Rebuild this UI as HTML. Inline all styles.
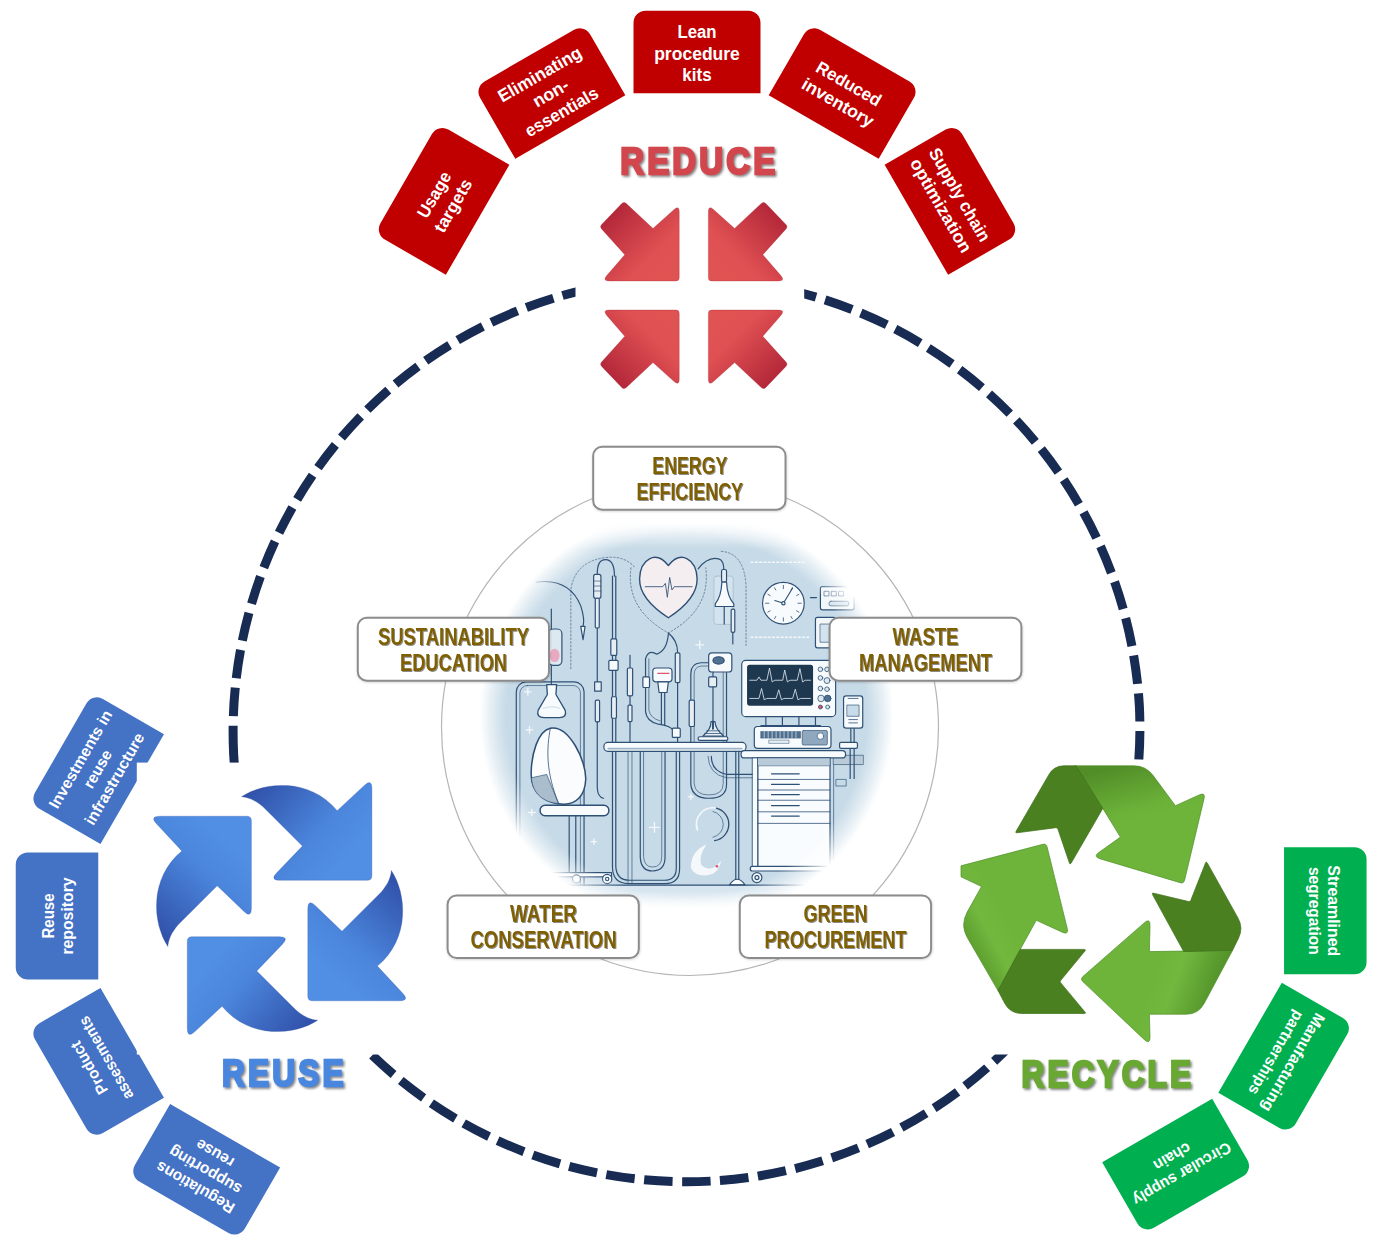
<!DOCTYPE html>
<html lang="en"><head><meta charset="utf-8"><title>Reduce Reuse Recycle</title>
<style>html,body{margin:0;padding:0;background:#fff}svg{display:block}text{font-family:"Liberation Sans",sans-serif}</style></head>
<body>
<svg width="1380" height="1240" viewBox="0 0 1380 1240">
<defs>
<linearGradient id="gr" gradientUnits="userSpaceOnUse" x1="-78" y1="-78" x2="-10" y2="-10"><stop offset="0" stop-color="#A81D33"/><stop offset="0.75" stop-color="#DF5052"/><stop offset="1" stop-color="#E05353"/></linearGradient>
<linearGradient id="gb" gradientUnits="userSpaceOnUse" x1="-30" y1="-125" x2="60" y2="-45"><stop offset="0" stop-color="#2F4DA6"/><stop offset="0.7" stop-color="#4B86DC"/><stop offset="1" stop-color="#508FE4"/></linearGradient>
<linearGradient id="gga" gradientUnits="userSpaceOnUse" x1="1120" y1="766" x2="1135" y2="822"><stop offset="0" stop-color="#528E28"/><stop offset="0.8" stop-color="#6CB239"/><stop offset="1" stop-color="#6EB43A"/></linearGradient>
<linearGradient id="ggb" gradientUnits="userSpaceOnUse" x1="966" y1="950" x2="1012" y2="925"><stop offset="0" stop-color="#579829"/><stop offset="0.55" stop-color="#72B83F"/><stop offset="1" stop-color="#6EB43A"/></linearGradient>
<linearGradient id="ggc" gradientUnits="userSpaceOnUse" x1="1160" y1="960" x2="1228" y2="985"><stop offset="0" stop-color="#6EB43A"/><stop offset="0.3" stop-color="#72B83F"/><stop offset="1" stop-color="#4C8A24"/></linearGradient>
<radialGradient id="disc" gradientUnits="userSpaceOnUse" cx="690" cy="716" r="212"><stop offset="0" stop-color="#C8DBE8"/><stop offset="0.78" stop-color="#C8DBE8"/><stop offset="0.9" stop-color="#DCE8F0"/><stop offset="1" stop-color="#FFFFFF"/></radialGradient>
<filter id="sh" x="-10%" y="-20%" width="120%" height="150%"><feDropShadow dx="1.6" dy="1.6" stdDeviation="0.9" flood-color="#555" flood-opacity="0.75"/></filter>
<filter id="sh2" x="-10%" y="-20%" width="120%" height="150%"><feDropShadow dx="1" dy="1" stdDeviation="0.7" flood-color="#333" flood-opacity="0.55"/></filter>
<filter id="bsh" x="-5%" y="-10%" width="110%" height="125%"><feDropShadow dx="0.4" dy="0.8" stdDeviation="0.8" flood-color="#000" flood-opacity="0.18"/></filter>
<clipPath id="cdisc"><circle cx="690" cy="716" r="212"/></clipPath>
</defs>

<rect width="1380" height="1240" fill="#fff"/>
<path d="M233.65,754.21 A453.5,453.5 0 0 1 1139.35,705.79 A453.5,453.5 0 0 1 233.65,754.21" fill="none" stroke="#172B53" stroke-width="9" stroke-dasharray="28.6 9.462"/>
<g transform="translate(441.9,199.2) rotate(-60)"><path d="M-63.5,-29.25 A12,12 0 0 1 -51.5,-41.25 L51.5,-41.25 A12,12 0 0 1 63.5,-29.25 L63.5,41.25 L-63.5,41.25 Z" fill="#C00000"/><text x="0" y="-2.9" font-size="17.5" font-weight="700" fill="#fff" text-anchor="middle" textLength="50.4" lengthAdjust="spacingAndGlyphs">Usage</text><text x="0" y="18.8" font-size="17.5" font-weight="700" fill="#fff" text-anchor="middle" textLength="58.4" lengthAdjust="spacingAndGlyphs">targets</text></g>
<g transform="translate(549.7,91.4) rotate(-30)"><path d="M-63.5,-29.25 A12,12 0 0 1 -51.5,-41.25 L51.5,-41.25 A12,12 0 0 1 63.5,-29.25 L63.5,41.25 L-63.5,41.25 Z" fill="#C00000"/><text x="0" y="-13.8" font-size="17.5" font-weight="700" fill="#fff" text-anchor="middle" textLength="93.5" lengthAdjust="spacingAndGlyphs">Eliminating</text><text x="0" y="7.9" font-size="17.5" font-weight="700" fill="#fff" text-anchor="middle" textLength="38.4" lengthAdjust="spacingAndGlyphs">non-</text><text x="0" y="29.6" font-size="17.5" font-weight="700" fill="#fff" text-anchor="middle" textLength="81.5" lengthAdjust="spacingAndGlyphs">essentials</text></g>
<g transform="translate(697.0,51.9) rotate(0)"><path d="M-63.5,-29.25 A12,12 0 0 1 -51.5,-41.25 L51.5,-41.25 A12,12 0 0 1 63.5,-29.25 L63.5,41.25 L-63.5,41.25 Z" fill="#C00000"/><text x="0" y="-13.8" font-size="17.5" font-weight="700" fill="#fff" text-anchor="middle" textLength="39.1" lengthAdjust="spacingAndGlyphs">Lean</text><text x="0" y="7.9" font-size="17.5" font-weight="700" fill="#fff" text-anchor="middle" textLength="85.7" lengthAdjust="spacingAndGlyphs">procedure</text><text x="0" y="29.6" font-size="17.5" font-weight="700" fill="#fff" text-anchor="middle" textLength="29.4" lengthAdjust="spacingAndGlyphs">kits</text></g>
<g transform="translate(844.3,91.4) rotate(30)"><path d="M-63.5,-29.25 A12,12 0 0 1 -51.5,-41.25 L51.5,-41.25 A12,12 0 0 1 63.5,-29.25 L63.5,41.25 L-63.5,41.25 Z" fill="#C00000"/><text x="0" y="-2.9" font-size="17.5" font-weight="700" fill="#fff" text-anchor="middle" textLength="72.0" lengthAdjust="spacingAndGlyphs">Reduced</text><text x="0" y="18.8" font-size="17.5" font-weight="700" fill="#fff" text-anchor="middle" textLength="80.2" lengthAdjust="spacingAndGlyphs">inventory</text></g>
<g transform="translate(952.1,199.2) rotate(60)"><path d="M-63.5,-29.25 A12,12 0 0 1 -51.5,-41.25 L51.5,-41.25 A12,12 0 0 1 63.5,-29.25 L63.5,41.25 L-63.5,41.25 Z" fill="#C00000"/><text x="0" y="-2.9" font-size="17.5" font-weight="700" fill="#fff" text-anchor="middle" textLength="105.2" lengthAdjust="spacingAndGlyphs">Supply chain</text><text x="0" y="18.8" font-size="17.5" font-weight="700" fill="#fff" text-anchor="middle" textLength="105.7" lengthAdjust="spacingAndGlyphs">optimization</text></g>
<g transform="translate(96.5,768.5) rotate(-60)"><path d="M-63.5,-29.25 A12,12 0 0 1 -51.5,-41.25 L51.5,-41.25 A12,12 0 0 1 63.5,-29.25 L63.5,41.25 L-63.5,41.25 Z" fill="#4472C4"/><text x="0" y="-13.0" font-size="15.8" font-weight="700" fill="#fff" text-anchor="middle" textLength="110.5" lengthAdjust="spacingAndGlyphs">Investments in</text><text x="0" y="6.6" font-size="15.8" font-weight="700" fill="#fff" text-anchor="middle" textLength="41.4" lengthAdjust="spacingAndGlyphs">reuse</text><text x="0" y="26.2" font-size="15.8" font-weight="700" fill="#fff" text-anchor="middle" textLength="103.4" lengthAdjust="spacingAndGlyphs">infrastructure</text></g>
<g transform="translate(57.0,916.0) rotate(-90)"><path d="M-63.5,-29.25 A12,12 0 0 1 -51.5,-41.25 L51.5,-41.25 A12,12 0 0 1 63.5,-29.25 L63.5,41.25 L-63.5,41.25 Z" fill="#4472C4"/><text x="0" y="-3.2" font-size="15.8" font-weight="700" fill="#fff" text-anchor="middle" textLength="45.1" lengthAdjust="spacingAndGlyphs">Reuse</text><text x="0" y="16.4" font-size="15.8" font-weight="700" fill="#fff" text-anchor="middle" textLength="77.2" lengthAdjust="spacingAndGlyphs">repository</text></g>
<g transform="translate(96.5,1063.5) rotate(-120)"><path d="M-63.5,-29.25 A12,12 0 0 1 -51.5,-41.25 L51.5,-41.25 A12,12 0 0 1 63.5,-29.25 L63.5,41.25 L-63.5,41.25 Z" fill="#4472C4"/><text x="0" y="-3.2" font-size="15.8" font-weight="700" fill="#fff" text-anchor="middle" textLength="58.7" lengthAdjust="spacingAndGlyphs">Product</text><text x="0" y="16.4" font-size="15.8" font-weight="700" fill="#fff" text-anchor="middle" textLength="93.6" lengthAdjust="spacingAndGlyphs">assessments</text></g>
<g transform="translate(204.5,1171.5) rotate(-150)"><path d="M-63.5,-29.25 A12,12 0 0 1 -51.5,-41.25 L51.5,-41.25 A12,12 0 0 1 63.5,-29.25 L63.5,41.25 L-63.5,41.25 Z" fill="#4472C4"/><text x="0" y="-13.0" font-size="15.8" font-weight="700" fill="#fff" text-anchor="middle" textLength="87.9" lengthAdjust="spacingAndGlyphs">Regulations</text><text x="0" y="6.6" font-size="15.8" font-weight="700" fill="#fff" text-anchor="middle" textLength="81.1" lengthAdjust="spacingAndGlyphs">supporting</text><text x="0" y="26.2" font-size="15.8" font-weight="700" fill="#fff" text-anchor="middle" textLength="41.4" lengthAdjust="spacingAndGlyphs">reuse</text></g>
<rect x="575.5" y="186" width="228.7" height="226" fill="#fff"/>
<rect x="136.8" y="762.6" width="284.6" height="291.9" fill="#fff"/>
<rect x="961" y="759.6" width="281" height="294.9" fill="#fff"/>
<g transform="translate(1325.3,910.8) rotate(90)"><path d="M-63.5,-29.25 A12,12 0 0 1 -51.5,-41.25 L51.5,-41.25 A12,12 0 0 1 63.5,-29.25 L63.5,41.25 L-63.5,41.25 Z" fill="#00B050"/><text x="0" y="-3.2" font-size="15.8" font-weight="700" fill="#fff" text-anchor="middle" textLength="91.0" lengthAdjust="spacingAndGlyphs">Streamlined</text><text x="0" y="16.4" font-size="15.8" font-weight="700" fill="#fff" text-anchor="middle" textLength="87.7" lengthAdjust="spacingAndGlyphs">segregation</text></g>
<g transform="translate(1285.8,1058.3) rotate(120)"><path d="M-63.5,-29.25 A12,12 0 0 1 -51.5,-41.25 L51.5,-41.25 A12,12 0 0 1 63.5,-29.25 L63.5,41.25 L-63.5,41.25 Z" fill="#00B050"/><text x="0" y="-3.2" font-size="15.8" font-weight="700" fill="#fff" text-anchor="middle" textLength="111.0" lengthAdjust="spacingAndGlyphs">Manufacturing</text><text x="0" y="16.4" font-size="15.8" font-weight="700" fill="#fff" text-anchor="middle" textLength="94.5" lengthAdjust="spacingAndGlyphs">partnerships</text></g>
<g transform="translate(1177.8,1166.3) rotate(150)"><path d="M-63.5,-29.25 A12,12 0 0 1 -51.5,-41.25 L51.5,-41.25 A12,12 0 0 1 63.5,-29.25 L63.5,41.25 L-63.5,41.25 Z" fill="#00B050"/><text x="0" y="-3.2" font-size="15.8" font-weight="700" fill="#fff" text-anchor="middle" textLength="110.5" lengthAdjust="spacingAndGlyphs">Circular supply</text><text x="0" y="16.4" font-size="15.8" font-weight="700" fill="#fff" text-anchor="middle" textLength="40.2" lengthAdjust="spacingAndGlyphs">chain</text></g>
<g id="reduce">
<g transform="translate(693.8,295.5) scale(1,1) translate(-14.6,-14.6)"><path d="M-3.2,0.0 Q0.0,0.0 0.0,-3.2 L0.0,-68.8 Q0.0,-76.0 -5.3,-71.2 L-26.2,-52.4 L-52.9,-77.4 Q-55.2,-79.6 -57.4,-77.3 L-77.5,-56.3 Q-79.6,-54.2 -77.6,-52.0 L-54.4,-26.2 L-72.4,-5.3 Q-77.0,0.0 -70.0,0.0 Z" fill="url(#gr)" stroke="#B02A3C" stroke-opacity="0.45" stroke-width="0.8"/></g>
<g transform="translate(693.8,295.5) scale(-1,1) translate(-14.6,-14.6)"><path d="M-3.2,0.0 Q0.0,0.0 0.0,-3.2 L0.0,-68.8 Q0.0,-76.0 -5.3,-71.2 L-26.2,-52.4 L-52.9,-77.4 Q-55.2,-79.6 -57.4,-77.3 L-77.5,-56.3 Q-79.6,-54.2 -77.6,-52.0 L-54.4,-26.2 L-72.4,-5.3 Q-77.0,0.0 -70.0,0.0 Z" fill="url(#gr)" stroke="#B02A3C" stroke-opacity="0.45" stroke-width="0.8"/></g>
<g transform="translate(693.8,295.5) scale(1,-1) translate(-14.6,-14.6)"><path d="M-3.2,0.0 Q0.0,0.0 0.0,-3.2 L0.0,-68.8 Q0.0,-76.0 -5.3,-71.2 L-26.2,-52.4 L-52.9,-77.4 Q-55.2,-79.6 -57.4,-77.3 L-77.5,-56.3 Q-79.6,-54.2 -77.6,-52.0 L-54.4,-26.2 L-72.4,-5.3 Q-77.0,0.0 -70.0,0.0 Z" fill="url(#gr)" stroke="#B02A3C" stroke-opacity="0.45" stroke-width="0.8"/></g>
<g transform="translate(693.8,295.5) scale(-1,-1) translate(-14.6,-14.6)"><path d="M-3.2,0.0 Q0.0,0.0 0.0,-3.2 L0.0,-68.8 Q0.0,-76.0 -5.3,-71.2 L-26.2,-52.4 L-52.9,-77.4 Q-55.2,-79.6 -57.4,-77.3 L-77.5,-56.3 Q-79.6,-54.2 -77.6,-52.0 L-54.4,-26.2 L-72.4,-5.3 Q-77.0,0.0 -70.0,0.0 Z" fill="url(#gr)" stroke="#B02A3C" stroke-opacity="0.45" stroke-width="0.8"/></g>
</g>
<g id="reuse">
<g transform="translate(279.6,908.5) rotate(0)"><path d="M84.7,-123.1 Q92.3,-130.2 92.3,-119.8 L92.3,-32.7 Q92.3,-28.2 87.8,-28.2 L0.4,-28.2 Q-10.2,-28.2 -2.8,-35.8 L22.8,-62.4 L-14.3,-99.5 L-16.6,-101.7 L-19.0,-103.7 L-21.4,-105.4 L-23.7,-107.0 L-26.1,-108.3 L-28.5,-109.4 L-30.9,-110.3 L-33.3,-111.0 L-35.7,-111.5 L-38.1,-111.7 L-33.5,-114.4 L-28.5,-116.9 L-23.1,-118.9 L-17.3,-120.7 L-11.2,-121.9 L-4.9,-122.8 L1.5,-123.1 L8.1,-122.9 L14.7,-122.2 L21.3,-120.8 L27.8,-118.8 L34.3,-116.1 L40.5,-112.7 L46.5,-108.6 L52.2,-103.6 L57.6,-97.8 Z" fill="url(#gb)" stroke="#2F4DA6" stroke-opacity="0.35" stroke-width="0.8"/></g>
<g transform="translate(279.6,908.5) rotate(90)"><path d="M84.7,-123.1 Q92.3,-130.2 92.3,-119.8 L92.3,-32.7 Q92.3,-28.2 87.8,-28.2 L0.4,-28.2 Q-10.2,-28.2 -2.8,-35.8 L22.8,-62.4 L-14.3,-99.5 L-16.6,-101.7 L-19.0,-103.7 L-21.4,-105.4 L-23.7,-107.0 L-26.1,-108.3 L-28.5,-109.4 L-30.9,-110.3 L-33.3,-111.0 L-35.7,-111.5 L-38.1,-111.7 L-33.5,-114.4 L-28.5,-116.9 L-23.1,-118.9 L-17.3,-120.7 L-11.2,-121.9 L-4.9,-122.8 L1.5,-123.1 L8.1,-122.9 L14.7,-122.2 L21.3,-120.8 L27.8,-118.8 L34.3,-116.1 L40.5,-112.7 L46.5,-108.6 L52.2,-103.6 L57.6,-97.8 Z" fill="url(#gb)" stroke="#2F4DA6" stroke-opacity="0.35" stroke-width="0.8"/></g>
<g transform="translate(279.6,908.5) rotate(180)"><path d="M84.7,-123.1 Q92.3,-130.2 92.3,-119.8 L92.3,-32.7 Q92.3,-28.2 87.8,-28.2 L0.4,-28.2 Q-10.2,-28.2 -2.8,-35.8 L22.8,-62.4 L-14.3,-99.5 L-16.6,-101.7 L-19.0,-103.7 L-21.4,-105.4 L-23.7,-107.0 L-26.1,-108.3 L-28.5,-109.4 L-30.9,-110.3 L-33.3,-111.0 L-35.7,-111.5 L-38.1,-111.7 L-33.5,-114.4 L-28.5,-116.9 L-23.1,-118.9 L-17.3,-120.7 L-11.2,-121.9 L-4.9,-122.8 L1.5,-123.1 L8.1,-122.9 L14.7,-122.2 L21.3,-120.8 L27.8,-118.8 L34.3,-116.1 L40.5,-112.7 L46.5,-108.6 L52.2,-103.6 L57.6,-97.8 Z" fill="url(#gb)" stroke="#2F4DA6" stroke-opacity="0.35" stroke-width="0.8"/></g>
<g transform="translate(279.6,908.5) rotate(270)"><path d="M84.7,-123.1 Q92.3,-130.2 92.3,-119.8 L92.3,-32.7 Q92.3,-28.2 87.8,-28.2 L0.4,-28.2 Q-10.2,-28.2 -2.8,-35.8 L22.8,-62.4 L-14.3,-99.5 L-16.6,-101.7 L-19.0,-103.7 L-21.4,-105.4 L-23.7,-107.0 L-26.1,-108.3 L-28.5,-109.4 L-30.9,-110.3 L-33.3,-111.0 L-35.7,-111.5 L-38.1,-111.7 L-33.5,-114.4 L-28.5,-116.9 L-23.1,-118.9 L-17.3,-120.7 L-11.2,-121.9 L-4.9,-122.8 L1.5,-123.1 L8.1,-122.9 L14.7,-122.2 L21.3,-120.8 L27.8,-118.8 L34.3,-116.1 L40.5,-112.7 L46.5,-108.6 L52.2,-103.6 L57.6,-97.8 Z" fill="url(#gb)" stroke="#2F4DA6" stroke-opacity="0.35" stroke-width="0.8"/></g>
</g>
<g id="recycle">
<path d="M1074.9,765.8 L1133.9,765.8 Q1146.0,765.8 1153.2,775.6 L1175.4,805.7 L1199.2,794.9 Q1205.7,792.0 1204.0,798.9 L1184.6,880.2 Q1183.7,883.8 1180.2,882.7 L1099.8,858.7 Q1092.9,856.6 1098.8,852.5 L1120.4,837.1 L1102.8,808.4 Z" fill="url(#gga)" stroke="#4E8F27" stroke-width="0.7"/><path d="M1076.0,765.8 L1102.8,808.4 L1071.2,863.1 Q1070.1,865.0 1069.4,862.9 L1057.9,829.1 Q1057.4,827.5 1055.8,827.7 L1017.1,832.8 Q1015.1,833.1 1016.1,831.3 L1049.0,774.4 Q1054.0,765.8 1063.9,765.8 Z" fill="#4A8020" stroke="#3E7019" stroke-width="0.7"/>
<path d="M1047.1,846.9 Q1046.3,843.4 1042.9,844.3 L961.0,865.8 L961.0,876.8 L981.5,886.5 L967.2,912.1 Q960.0,925.0 967.4,937.8 L998.4,991.3 L1020.2,949.4 L1036.3,920.3 L1062.3,932.2 Q1068.9,935.2 1067.2,928.2 Z" fill="url(#ggb)" stroke="#4E8F27" stroke-width="0.7"/><path d="M1020.2,949.4 L1084.2,949.4 Q1086.3,949.4 1084.9,951.0 L1060.8,980.3 Q1059.7,981.6 1060.8,982.9 L1084.9,1011.9 Q1086.3,1013.5 1084.2,1013.5 L1021.7,1013.5 Q1010.0,1013.5 1004.6,1003.1 L998.0,990.5 Z" fill="#4A8020" stroke="#3E7019" stroke-width="0.7"/>
<path d="M1082.8,981.6 Q1080.0,979.0 1082.9,976.5 L1144.2,922.9 Q1150.2,917.7 1150.0,925.6 L1149.4,951.6 L1232.6,950.3 L1204.1,1003.6 Q1198.5,1014.2 1186.5,1014.2 L1149.4,1014.2 L1150.0,1036.8 Q1150.2,1045.2 1144.1,1039.4 Z" fill="url(#ggc)" stroke="#4E8F27" stroke-width="0.7"/><path d="M1205.5,863.0 Q1206.3,861.0 1207.3,862.9 L1238.1,918.2 Q1243.5,928.0 1238.6,938.0 L1232.6,950.3 L1183.7,951.6 L1152.6,894.7 Q1151.5,892.7 1153.7,893.2 L1188.5,901.5 Q1190.2,901.9 1190.8,900.3 Z" fill="#4A8020" stroke="#3E7019" stroke-width="0.7"/>
</g>
<!-- centre -->
<circle cx="690" cy="727" r="248.5" fill="none" stroke="#B5B5B5" stroke-width="1.2"/>
<mask id="fade" maskUnits="userSpaceOnUse" x="470" y="500" width="440" height="430">
<radialGradient id="fg" gradientUnits="userSpaceOnUse" cx="686.5" cy="716" r="207"><stop offset="0" stop-color="#fff"/><stop offset="0.87" stop-color="#fff"/><stop offset="0.935" stop-color="#8a8a8a"/><stop offset="1" stop-color="#000"/></radialGradient>
<rect x="470" y="500" width="440" height="430" fill="url(#fg)"/>
</mask>
<mask id="fadev" maskUnits="userSpaceOnUse" x="470" y="500" width="440" height="430">
<linearGradient id="fv" gradientUnits="userSpaceOnUse" x1="0" y1="522" x2="0" y2="908"><stop offset="0" stop-color="#000"/><stop offset="0.07" stop-color="#fff"/><stop offset="0.955" stop-color="#fff"/><stop offset="1" stop-color="#000"/></linearGradient>
<rect x="470" y="500" width="440" height="430" fill="url(#fv)"/>
</mask>
<g mask="url(#fadev)"><g mask="url(#fade)">
<rect x="470" y="500" width="440" height="430" fill="#C6DAE7"/>
<rect x="470" y="886" width="440" height="50" fill="#D6E5EF"/>
<g transform="translate(470,510) scale(0.33058)" fill="none" stroke="#2F5075" stroke-width="3.6" stroke-linecap="round" stroke-linejoin="round">
<!-- dotted guides -->
<g stroke-dasharray="5 6" stroke-width="2.4" stroke="#55728F">
<path d="M305,480 L305,240 Q320,150 420,143 Q470,140 500,175"/>
<path d="M487,175 Q470,300 600,372 Q730,300 713,175"/>
<path d="M760,125 Q830,130 835,230 L835,410"/>
</g>
<g stroke="#F4F8FB" stroke-dasharray="6 7" stroke-width="4"><path d="M850,158 L1010,158"/><path d="M850,385 L1025,385"/></g>
<!-- IV frame -->
<rect x="140" y="520" width="205" height="700" rx="30"/><rect x="151" y="531" width="183" height="700" rx="22" stroke-width="2"/>
<!-- drip chamber -->
<path d="M246,300 L246,528"/><rect x="238" y="360" width="40" height="110" rx="14" fill="#DCE9F1"/><ellipse cx="256" cy="440" rx="15" ry="20" fill="#E9A9C0" stroke="none"/>
<!-- flask -->
<path d="M232,528 L262,528 L260,558 L288,606 Q294,628 270,628 L224,628 Q200,628 206,606 L234,558 Z" fill="#F7FBFD" stroke-width="4"/><path d="M222,600 Q247,590 272,600" stroke="#B9CBD8" stroke-width="2"/>
<!-- hose top-left -->
<path d="M200,218 Q300,205 335,290 Q348,330 342,352" /><path d="M335,352 L348,352 L342,392 Z" fill="#F4F8FB"/>
<!-- instrument 1 -->
<path d="M385,192 Q385,150 410,150 Q437,150 437,200"/>
<rect x="374" y="195" width="22" height="72" rx="6" fill="#E6EEF4"/><path d="M374,215 h22 M374,230 h22 M374,245 h22" stroke-width="2"/>
<rect x="379" y="267" width="12" height="90" rx="4" fill="#E6EEF4"/><path d="M385,357 L385,520"/>
<rect x="377" y="520" width="20" height="28" fill="#E6EEF4"/><rect x="379" y="575" width="13" height="66" rx="4" fill="#E6EEF4"/><path d="M385,641 L385,840 Q386,868 404,872"/>
<!-- pole -->
<path d="M431,200 L431,1080 Q431,1130 480,1130 L590,1130 Q634,1130 634,1085 L634,730"/><path d="M441,200 L441,1078 Q443,1120 482,1120 L588,1120 Q624,1120 624,1083 L624,730"/>
<rect x="426" y="390" width="18" height="50" rx="4" fill="#E6EEF4"/><rect x="420" y="455" width="28" height="30" rx="3" fill="#F7FBFD"/><rect x="428" y="565" width="15" height="65" rx="4" fill="#E6EEF4"/>
<!-- instrument 3 -->
<path d="M484,440 L484,700"/><rect x="476" y="478" width="16" height="84" rx="4" fill="#E6EEF4"/><rect x="478" y="590" width="12" height="50" rx="3" fill="#E6EEF4"/><path d="M478,730 L478,1130 M490,730 L490,1130" stroke-width="2"/>
<!-- heart tubes -->
<path d="M600,372 Q628,395 628,430 L628,700"/><rect x="621" y="432" width="14" height="90" rx="4" fill="#E6EEF4"/>
<path d="M600,375 Q596,425 565,436 Q540,420 531,450 L531,610 Q534,640 570,648 Q606,652 616,668"/><path d="M541,450 L541,606 Q546,630 575,638" stroke-width="2"/>
<rect x="523" y="505" width="20" height="32" rx="3" fill="#F7FBFD"/>
<!-- handpiece -->
<rect x="553" y="478" width="58" height="42" rx="10" fill="#F7FBFD"/><path d="M568,494 h34" stroke="#E0566F" stroke-width="4"/>
<path d="M568,520 L600,520 L596,552 L572,552 Z" fill="#F7FBFD"/><path d="M579,552 L579,648 M589,552 L589,650"/>
<rect x="612" y="660" width="24" height="28" rx="3" fill="#F7FBFD"/>
<!-- inner U -->
<path d="M515,730 L515,1050 Q517,1092 552,1092 Q590,1092 590,1050 L590,730"/><path d="M525,730 L525,1048 Q527,1080 552,1080 Q580,1080 580,1048 L580,730" stroke-width="2"/>
<!-- right instrument -->
<path d="M722,462 L698,462 Q668,464 668,495 L668,830 Q672,872 722,872 Q776,872 776,830 L776,492"/><path d="M722,472 L700,472 Q678,474 678,498 L678,828 Q682,862 722,862 Q766,862 766,828 L766,492" stroke-width="2"/>
<rect x="722" y="432" width="70" height="58" rx="10" fill="#F7FBFD"/><ellipse cx="752" cy="455" rx="17" ry="11" fill="#50708F"/>
<rect x="663" y="575" width="16" height="80" rx="4" fill="#E6EEF4"/>
<path d="M735,490 L735,640"/><rect x="722" y="505" width="24" height="30" rx="3" fill="#E6EEF4"/>
<path d="M729,640 Q730,664 704,684 L768,684 Q742,664 741,640 Z" fill="#E9F0F5"/><path d="M716,668 h40 M710,676 h52" stroke-width="2.4"/><path d="M735,640 L735,662" stroke-width="6"/><rect x="690" y="686" width="90" height="11" rx="5" fill="#F7FBFD"/>
<path d="M730,745 Q730,790 776,800 L860,800" /><path d="M720,745 Q722,800 776,810 L860,810" stroke-width="2"/>
<!-- table -->
<rect x="405" y="703" width="430" height="27" rx="12" fill="#F7FBFD"/><path d="M418,722 L822,722" stroke="#9FB6C9" stroke-width="5"/>
<path d="M804,730 L804,1118 M813,730 L813,1118"/><path d="M785,1134 Q808,1100 832,1134 Z" fill="#F7FBFD"/>
<!-- heart -->
<path d="M600,326 C560,300 512,262 513,208 C515,148 562,120 600,168 C638,120 685,148 687,208 C688,262 640,300 600,326 Z" fill="#F5EEF1" stroke-width="4.2"/>
<path d="M530,232 L583,232 L591,222 L597,264 L604,204 L611,242 L618,232 L672,232" stroke-width="2.6"/>
<!-- top right instrument -->
<path d="M690,178 Q720,140 752,148 Q768,152 768,182"/>
<rect x="738" y="200" width="58" height="146" rx="8" fill="#D4E4EE" stroke="#9DB5C8" stroke-width="2"/>
<rect x="761" y="180" width="15" height="38" rx="5" fill="#E6EEF4"/>
<path d="M762,218 L776,218 Q778,262 798,284 L798,292 L742,292 L742,284 Q760,262 762,218 Z" fill="#F7FBFD"/>
<path d="M769,292 L769,345"/><rect x="790" y="300" width="11" height="70" rx="4" fill="#E6EEF4"/><path d="M795,370 L795,405"/>
<!-- clock -->
<circle cx="948" cy="282" r="63" fill="#F7FBFD" stroke-width="3.5"/>
<path d="M948,228 v10 M948,326 v10 M894,282 h10 M992,282 h10 M921,235 l4,7 M975,329 l-4,-7 M975,235 l-4,7 M921,329 l4,-7 M901,255 l7,4 M995,255 l-7,4 M901,309 l7,-4 M995,309 l-7,-4" stroke-width="2.4"/>
<path d="M948,282 L976,236 M948,282 L922,274" stroke-width="3.4"/><circle cx="948" cy="282" r="5" fill="#F7FBFD"/>
<path d="M1030,265 h18" stroke-width="4"/>
<!-- wall panels -->
<rect x="1060" y="232" width="102" height="70" rx="6" fill="#F2F7FA"/><path d="M1072,246 h14 v14 h-14 Z M1094,246 h14 v14 h-14 Z M1116,246 h14 v14 h-14 Z" stroke-width="2"/><rect x="1086" y="276" width="60" height="14" rx="6" fill="#D4E4EE" stroke-width="2"/>
<rect x="1045" y="325" width="60" height="92" rx="6" fill="#F2F7FA"/><rect x="1060" y="345" width="40" height="55" fill="#D4E4EE" stroke-width="2"/>
<!-- monitor -->
<rect x="822" y="455" width="284" height="170" rx="12" fill="#F7FBFD" stroke-width="3.5"/>
<rect x="840" y="470" width="196" height="120" rx="6" fill="#1E3850" stroke="#1E3850"/>
<path d="M846,515 L868,515 L874,505 L880,515 L898,515 L906,478 L914,520 L922,515 L946,515 L952,484 L960,520 L968,515 L990,515 L998,480 L1006,520 L1014,515 L1030,515" stroke="#E6F0F6" stroke-width="2.4"/>
<path d="M846,570 L874,570 L882,540 L890,574 L898,570 L926,570 L934,544 L942,574 L950,570 L976,570 L984,542 L992,574 L1000,570 L1030,570" stroke="#E6F0F6" stroke-width="2.4"/>
<g stroke-width="2.4" fill="#DCE8F0"><circle cx="1060" cy="482" r="7"/><circle cx="1080" cy="482" r="7"/><circle cx="1060" cy="508" r="7"/><circle cx="1080" cy="516" r="9"/><circle cx="1060" cy="540" r="7"/><circle cx="1080" cy="542" r="7"/><circle cx="1062" cy="570" r="10"/><circle cx="1082" cy="570" r="10" fill="#50708F"/><circle cx="1060" cy="596" r="6" fill="#E0566F"/><circle cx="1082" cy="596" r="6"/></g>
<path d="M895,625 L895,652 M945,625 L945,652 M995,625 L995,652 M1045,625 L1045,652 M880,652 L1060,652"/>
<!-- keyboard unit -->
<rect x="860" y="655" width="232" height="66" rx="10" fill="#F7FBFD"/><rect x="880" y="670" width="120" height="20" fill="#50708F" stroke-width="1.5"/><path d="M890,670 v20 M902,670 v20 M914,670 v20 M926,670 v20 M938,670 v20 M950,670 v20 M962,670 v20 M974,670 v20 M986,670 v20" stroke="#E6F0F6" stroke-width="2"/>
<rect x="905" y="696" width="60" height="10" fill="#E6EEF4" stroke-width="1.5"/><rect x="1005" y="667" width="76" height="44" rx="4" fill="#8FA8BD" stroke-width="2"/><circle cx="1060" cy="684" r="10" fill="#F7FBFD" stroke-width="2"/>
<!-- cart -->
<path d="M1100,742 L1190,742 L1190,770 L1100,770 Z" fill="#B9CBD8" stroke-width="2"/>
<rect x="820" y="728" width="316" height="22" rx="10" fill="#F7FBFD"/>
<rect x="855" y="750" width="16" height="335" fill="#F7FBFD" stroke-width="2.5"/>
<rect x="871" y="750" width="218" height="330" fill="#F9FCFE"/>
<rect x="871" y="750" width="218" height="24" fill="#B9CBD8" stroke-width="1.5"/><path d="M871,815 h218 M871,847 h218 M871,878 h218 M871,913 h218 M871,948 h218" stroke-width="2.4"/>
<path d="M912,798 h84 M912,830 h84 M912,861 h84 M912,894 h84 M912,926 h84" stroke-width="3.6"/>
<rect x="848" y="1078" width="254" height="14" rx="6" fill="#F7FBFD"/>
<circle cx="868" cy="1112" r="15" fill="#F7FBFD"/><circle cx="868" cy="1112" r="6"/><circle cx="1086" cy="1112" r="15" fill="#F7FBFD"/>
<path d="M1100,770 L1100,1080" stroke-width="2"/><rect x="1108" y="815" width="30" height="20" fill="none" stroke-width="2"/>
<!-- right device -->
<path d="M1152,660 L1152,705 M1162,660 L1162,705 M1150,720 L1150,812 M1162,720 L1162,812"/>
<rect x="1130" y="562" width="58" height="98" rx="8" fill="#F7FBFD"/><rect x="1141" y="590" width="36" height="34" fill="#C8DBE8" stroke-width="2"/><path d="M1144,570 h30 M1146,634 h26 M1146,644 h26" stroke-width="2.4"/>
<rect x="1118" y="703" width="54" height="18" rx="4" fill="#F7FBFD"/>
<!-- chair -->
<path d="M300,925 L300,1095 M320,925 L320,1095"/>
<path d="M252,1097 L428,1097 L428,1110 L252,1110 Z" fill="#F7FBFD"/><circle cx="322" cy="1116" r="12" fill="#F7FBFD"/><circle cx="415" cy="1116" r="14" fill="#F7FBFD"/><circle cx="415" cy="1116" r="5"/>
<path d="M243,660 C300,650 352,760 350,815 C348,865 320,890 285,890 C235,890 185,860 185,800 C185,740 205,668 243,660 Z" fill="#FAFCFE" stroke-width="4.6"/>
<path d="M186,810 L232,800 L268,888 C225,885 188,860 186,810 Z" fill="#A9BDCD" stroke-width="2"/>
<path d="M243,660 C232,720 228,790 268,888" stroke-width="2.4"/>
<rect x="212" y="893" width="208" height="32" rx="15" fill="#F7FBFD" stroke-width="4.4"/>
<!-- circles bottom -->
<path d="M688,968 A50,50 0 0 1 745,902" stroke="#F4F8FB" stroke-width="5"/><path d="M745,902 A50,50 0 0 1 740,1000" stroke-width="4"/><path d="M735,912 A40,40 0 0 1 735,990" stroke-width="2"/>
<path d="M668,1080 Q670,1030 715,1012 Q690,1050 700,1075 Q730,1100 760,1060 Q750,1110 700,1105 Q672,1100 668,1080 Z" fill="#F4F8FB" stroke="none"/><circle cx="747" cy="1078" r="4" fill="#E0566F" stroke="none"/>
<!-- sparkles -->
<g stroke="#F4F8FB" stroke-width="4"><path d="M695,396 v24 M683,408 h24"/><path d="M558,945 v30 M543,960 h30"/><path d="M180,655 v20 M170,665 h20"/><path d="M187,905 v20 M177,915 h20"/><path d="M668,860 v16 M660,868 h16"/><path d="M375,995 v16 M367,1003 h16"/><path d="M175,540 v20 M165,550 h20"/></g>
<!-- floor -->
<rect x="0" y="1137" width="1340" height="120" fill="#D6E5EF" stroke="none"/>
<path d="M120,1135 L1120,1135" stroke-width="4"/>
</g>
</g></g>
<!-- label boxes -->
<g filter="url(#bsh)" fill="#fff" stroke="#8C8C8C" stroke-width="2">
<rect x="593.2" y="446.7" width="192.3" height="63" rx="9"/>
<rect x="357.8" y="617.7" width="191.2" height="63" rx="9"/>
<rect x="829.6" y="617.7" width="191.8" height="63" rx="9"/>
<rect x="447.6" y="895.5" width="191.2" height="62.5" rx="9"/>
<rect x="739.8" y="895.5" width="191.3" height="62.5" rx="9"/>
</g>
<g font-weight="700" font-size="24.6" fill="#7F6000" text-anchor="middle" filter="url(#sh2)">
<text x="689.8" y="473.5" textLength="75" lengthAdjust="spacingAndGlyphs">ENERGY</text>
<text x="689.8" y="499.8" textLength="106.5" lengthAdjust="spacingAndGlyphs">EFFICIENCY</text>
<text x="453.5" y="644.6" textLength="151" lengthAdjust="spacingAndGlyphs">SUSTAINABILITY</text>
<text x="453.5" y="670.9" textLength="107" lengthAdjust="spacingAndGlyphs">EDUCATION</text>
<text x="925.5" y="644.6" textLength="66" lengthAdjust="spacingAndGlyphs">WASTE</text>
<text x="925.5" y="670.9" textLength="133" lengthAdjust="spacingAndGlyphs">MANAGEMENT</text>
<text x="543.5" y="922.1" textLength="67" lengthAdjust="spacingAndGlyphs">WATER</text>
<text x="543.5" y="948.4" textLength="146" lengthAdjust="spacingAndGlyphs">CONSERVATION</text>
<text x="835.5" y="922.1" textLength="64" lengthAdjust="spacingAndGlyphs">GREEN</text>
<text x="835.5" y="948.4" textLength="142" lengthAdjust="spacingAndGlyphs">PROCUREMENT</text>
</g>

<g font-weight="700" stroke-linejoin="miter" stroke-miterlimit="3" filter="url(#sh)">
<text transform="translate(620.2,174.0) scale(0.899,1)" font-size="36.6" letter-spacing="3.56" fill="#D2464E" stroke="#D2464E" stroke-width="2.4">REDUCE</text>
<text transform="translate(222.1,1086.2) scale(0.861,1)" font-size="36.6" letter-spacing="3.72" fill="#4A86DE" stroke="#4A86DE" stroke-width="2.4">REUSE</text>
<text transform="translate(1021.6,1087.4) scale(0.859,1)" font-size="36.6" letter-spacing="3.72" fill="#69A832" stroke="#69A832" stroke-width="2.4">RECYCLE</text>
</g>
</svg>
</body></html>
